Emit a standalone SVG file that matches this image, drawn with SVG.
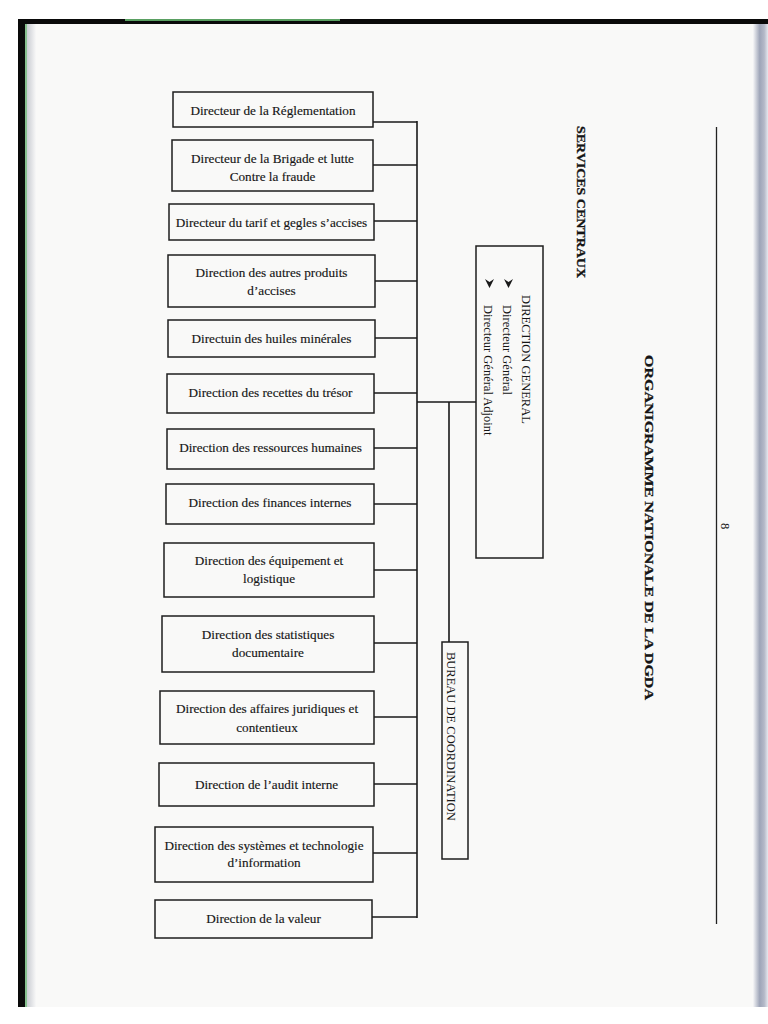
<svg xmlns="http://www.w3.org/2000/svg" width="768" height="1024" viewBox="0 0 768 1024">
<defs>
<linearGradient id="rside" x1="0" y1="0" x2="1" y2="0">
<stop offset="0" stop-color="#f7f7f8"/>
<stop offset="0.45" stop-color="#9ea5b8"/>
<stop offset="0.75" stop-color="#b4b9c8"/>
<stop offset="1" stop-color="#e6e8ee"/>
</linearGradient>
<linearGradient id="lside" x1="0" y1="0" x2="1" y2="0">
<stop offset="0" stop-color="#c9ccd2"/>
<stop offset="1" stop-color="#f8f8f8"/>
</linearGradient>
<style>
.box{fill:none;stroke:#1e1e1e;stroke-width:1.5}
.t{font-family:"Liberation Serif","Times New Roman",serif;font-size:13.2px;fill:#151515;text-anchor:middle;stroke:#151515;stroke-width:0.15}
.tv{font-family:"Liberation Serif","Times New Roman",serif;font-size:12.5px;fill:#151515}
.b{font-weight:bold;stroke:#111;stroke-width:0.3}
.ln{fill:none;stroke:#1a1a1a;stroke-width:1.6}
</style>
</defs>
<rect width="768" height="1024" fill="#ffffff"/>
<rect x="18" y="19" width="750" height="988" fill="#f9f9f8"/>
<rect x="27" y="24" width="9" height="983" fill="url(#lside)"/>
<rect x="753" y="24" width="15" height="983" fill="url(#rside)"/>
<rect x="18" y="19" width="750" height="5" fill="#0a0a0a"/>
<rect x="125" y="19" width="215" height="2" fill="#5aa062"/>
<rect x="18" y="19" width="7" height="988" fill="#0a0a0a"/>
<rect x="25" y="24" width="2" height="983" fill="#86c08e"/>

<g id="title">
<text class="tv b" font-size="19" textLength="345" lengthAdjust="spacingAndGlyphs" transform="translate(645,355) rotate(90)">ORGANIGRAMME NATIONALE DE LA DGDA</text>
</g>
<g id="services">
<text class="tv b" font-size="14.5" textLength="152" lengthAdjust="spacingAndGlyphs" transform="translate(577,126) rotate(90)">SERVICES  CENTRAUX</text>
</g>
<g id="rule">
<line x1="716.5" y1="127" x2="716.5" y2="924" stroke="#222" stroke-width="1.3"/>
<text class="tv" font-size="10" transform="translate(721,523) rotate(90)">8</text>
</g>

<g id="connectors">
<path class="ln" d="M417,121V918"/>
<path class="ln" d="M373,122H417M373,165H417M374,221H417M375,281H417M375,338H417M374,393H417M374,448H417M374,504H417M374,570H417M374,643H417M374,717H417M374,784H417M373,853H417M372,917H417"/>
<path class="ln" d="M417,402H476M449,402V642"/>
</g>

<g id="n1"><rect class="box" x="173" y="92" width="200" height="35"/><text class="t" x="273" y="115">Directeur de la Réglementation</text></g>
<g id="n2"><rect class="box" x="172" y="140" width="201" height="51"/><text class="t" x="272.5" y="163">Directeur de la Brigade et lutte</text><text class="t" x="272.5" y="181">Contre la fraude</text></g>
<g id="n3"><rect class="box" x="169" y="204" width="205" height="36"/><text class="t" x="271.5" y="227">Directeur du tarif et gegles s’accises</text></g>
<g id="n4"><rect class="box" x="168" y="255" width="207" height="52"/><text class="t" x="271.5" y="277">Direction des autres produits</text><text class="t" x="271.5" y="295">d’accises</text></g>
<g id="n5"><rect class="box" x="168" y="320" width="207" height="37"/><text class="t" x="271.5" y="343">Directuin des huiles minérales</text></g>
<g id="n6"><rect class="box" x="167" y="374" width="207" height="39"/><text class="t" x="270.5" y="397">Direction des recettes du trésor</text></g>
<g id="n7"><rect class="box" x="167" y="429" width="207" height="40"/><text class="t" x="270.5" y="452">Direction des ressources humaines</text></g>
<g id="n8"><rect class="box" x="166" y="484" width="208" height="40"/><text class="t" x="270" y="507">Direction des finances internes</text></g>
<g id="n9"><rect class="box" x="164" y="543" width="210" height="54"/><text class="t" x="269" y="565">Direction des équipement et</text><text class="t" x="269" y="583">logistique</text></g>
<g id="n10"><rect class="box" x="162" y="616" width="212" height="56"/><text class="t" x="268" y="639">Direction des statistiques</text><text class="t" x="268" y="657">documentaire</text></g>
<g id="n11"><rect class="box" x="160" y="691" width="214" height="53"/><text class="t" x="267" y="713">Direction des affaires juridiques et</text><text class="t" x="267" y="732">contentieux</text></g>
<g id="n12"><rect class="box" x="159" y="763" width="215" height="43"/><text class="t" x="266.5" y="789">Direction de l’audit interne</text></g>
<g id="n13"><rect class="box" x="155" y="827" width="218" height="55"/><text class="t" x="264" y="850">Direction des systèmes et technologie</text><text class="t" x="264" y="867">d’information</text></g>
<g id="n14"><rect class="box" x="155" y="900" width="217" height="38"/><text class="t" x="263.5" y="923">Direction de la valeur</text></g>

<g id="direction-generale">
<rect class="box" x="476" y="246" width="67" height="312"/>
<text class="tv" font-size="12.1" transform="translate(522,295) rotate(90)">DIRECTION GENERAL</text>
<path d="M504,279L508.5,288L513,279L508.5,282Z" fill="#1a1a1a"/>
<text class="tv" font-size="11.8" transform="translate(503,305) rotate(90)">Directeur Général</text>
<path d="M485,279L489.5,288L494,279L489.5,282Z" fill="#1a1a1a"/>
<text class="tv" font-size="11.8" transform="translate(484,305) rotate(90)">Directeur Général Adjoint</text>
</g>

<g id="bureau-coordination">
<rect class="box" x="442" y="642" width="26" height="217"/>
<text class="tv" font-size="11.6" transform="translate(447,652) rotate(90)">BUREAU DE COORDINATION</text>
</g>
</svg>
